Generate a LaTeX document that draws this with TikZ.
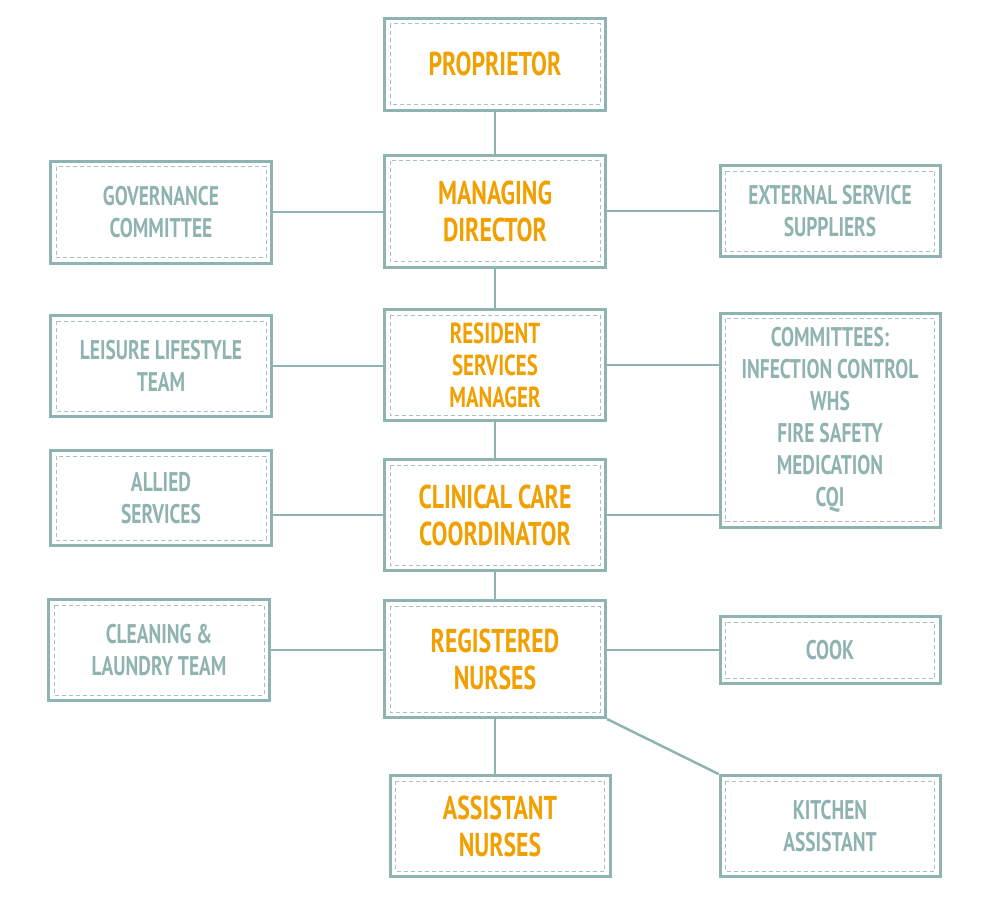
\documentclass[tikz,border=0pt]{standalone}
\usepackage{fontspec}
\setmainfont{PT Sans}[FakeStretch=0.72]
\usetikzlibrary{positioning}
\definecolor{teal}{HTML}{8FB3B0}
\definecolor{gold}{HTML}{F0A000}
\tikzset{
	x=1pt, y=-1pt,
	box/.style = {draw=teal, line width=3pt, minimum width=221pt, align=center,
		font=\bfseries, inner sep=0pt, text height=, 
		append after command={\pgfextra{\draw[teal!80, line width=0.8pt, dashed, dash pattern=on 4pt off 3pt]
			([shift={(7pt,-7pt)}]\tikzlastnode.north west) rectangle ([shift={(-7pt,7pt)}]\tikzlastnode.south east);}}},
	main/.style = {box, text=gold, font=\fontsize{33}{37}\selectfont\bfseries},
	side/.style = {box, text=teal, font=\fontsize{27}{32}\selectfont\bfseries},
	link/.style = {draw=teal, line width=2.5pt}
}
\begin{document}
\begin{tikzpicture}
	\useasboundingbox (0,0) rectangle (1000,902);
	\node[main, minimum height=92pt] (prop) at (495,64) {PROPRIETOR};
	\node[main, minimum height=112pt] (md) at (495,211) {MANAGING\\DIRECTOR};
	\node[main, minimum height=111pt, font=\fontsize{29}{32}\selectfont\bfseries] (rsm) at (495,365) {RESIDENT\\SERVICES\\MANAGER};
	\node[main, minimum height=111pt] (ccc) at (495,515) {CLINICAL CARE\\COORDINATOR};
	\node[main, minimum height=117pt] (rn) at (495,659) {REGISTERED\\NURSES};
	\node[main, minimum height=101pt, minimum width=220pt] (an) at (500,826) {ASSISTANT\\NURSES};
	\node[side, minimum height=102pt] (gov) at (161,212) {GOVERNANCE\\COMMITTEE};
	\node[side, minimum height=101pt] (lei) at (161,366) {LEISURE LIFESTYLE\\TEAM};
	\node[side, minimum height=95pt] (all) at (161,498) {ALLIED\\SERVICES};
	\node[side, minimum height=101pt] (cln) at (159,650) {CLEANING \&\\LAUNDRY TEAM};
	\node[side, minimum height=91pt, minimum width=220pt] (ext) at (830,211) {EXTERNAL SERVICE\\SUPPLIERS};
	\node[side, minimum height=214pt, minimum width=220pt] (com) at (830,420) {COMMITTEES:\\INFECTION CONTROL\\WHS\\FIRE SAFETY\\MEDICATION\\CQI};
	\node[side, minimum height=67pt, minimum width=220pt] (cook) at (830,650) {COOK};
	\node[side, minimum height=101pt, minimum width=220pt] (kit) at (830,826) {KITCHEN\\ASSISTANT};
	% vertical chain
	\draw[link] (prop) -- (md);
	\draw[link] (md) -- (rsm);
	\draw[link] (rsm) -- (ccc);
	\draw[link] (ccc) -- (rn);
	\draw[link] (rn.south) -- (rn.south |- an.north);
	% side links
	\draw[link] (gov) -- (md.west |- gov);
	\draw[link] (md.east) -- (md.east -| ext.west);
	\draw[link] (lei) -- (rsm.west |- lei);
	\draw[link] (rsm.east) -- (rsm.east -| com.west);
	\draw[link] (all.east |- ccc) -- (ccc.west);
	\draw[link] (ccc.east) -- (ccc.east -| com.west);
	\draw[link] (cln) -- (rn.west |- cln);
	\draw[link] (rn.east |- cook) -- (cook.west);
	\draw[link] (rn.south east) -- (kit.north west);
\end{tikzpicture}
\end{document}
